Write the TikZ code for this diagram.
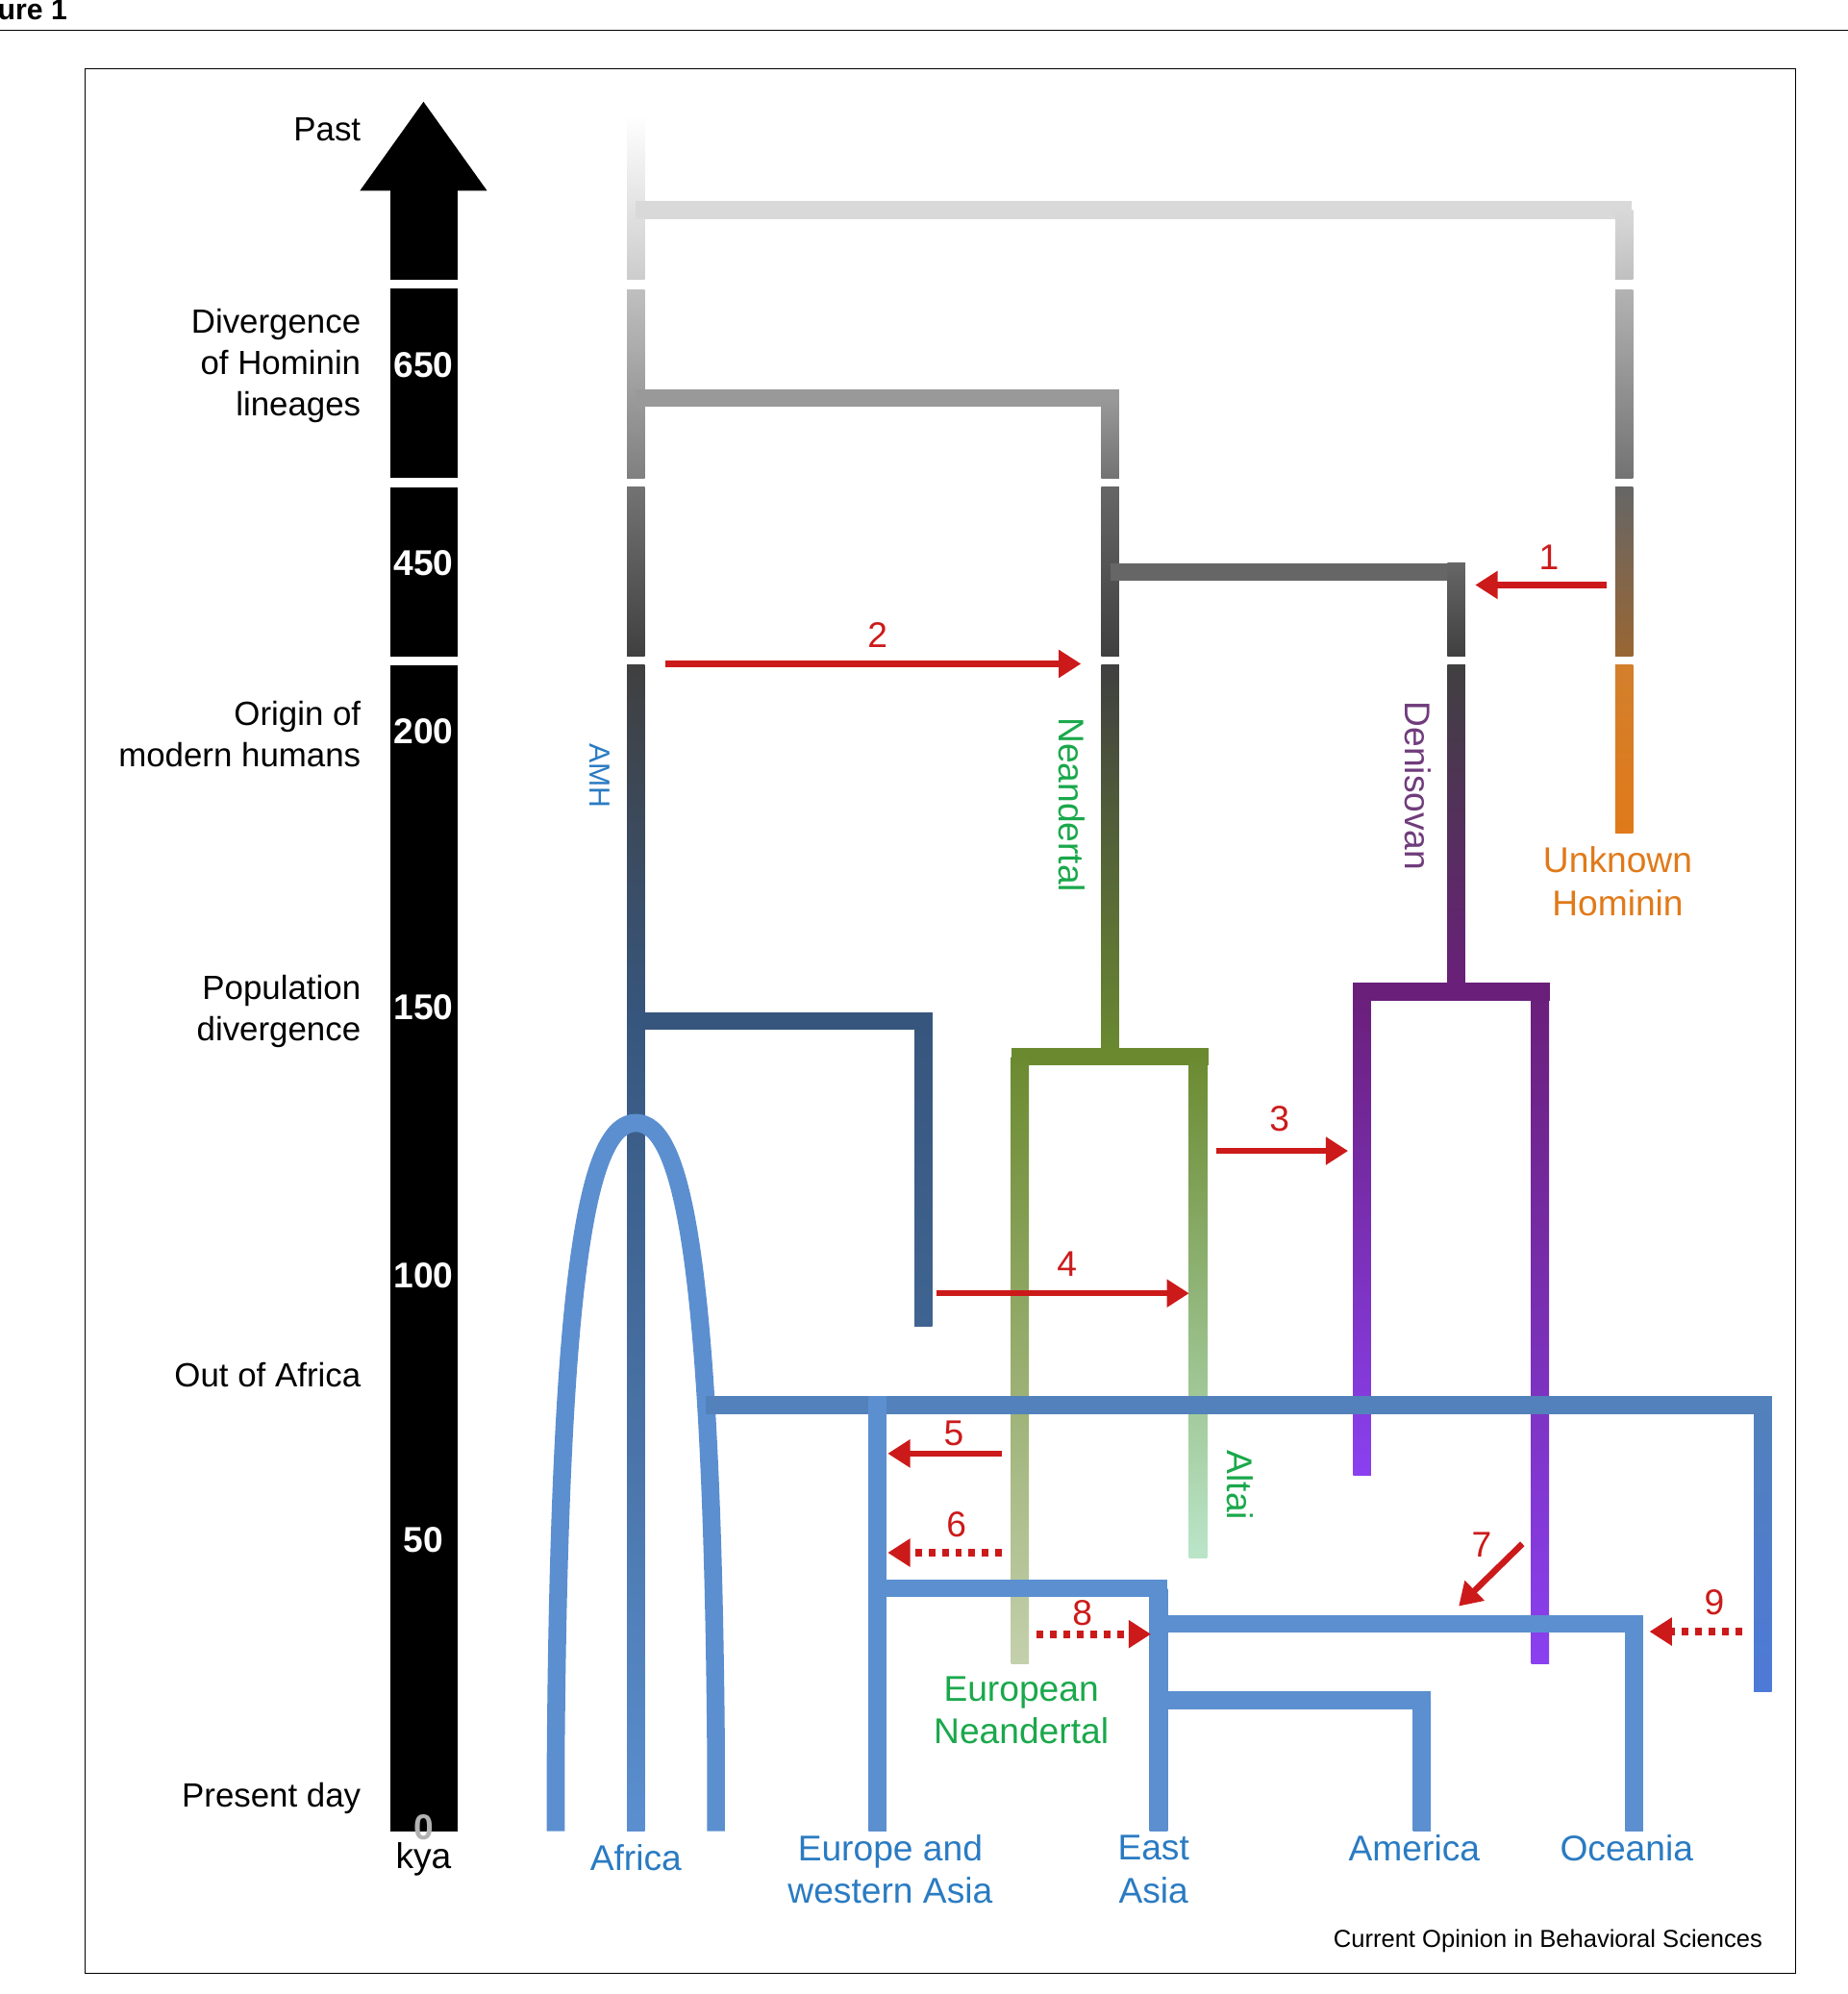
\documentclass[tikz,border=0pt]{standalone}
\usepackage{fontspec}
\setmainfont{Liberation Sans}
\usetikzlibrary{arrows.meta}
\definecolor{amhblue}{HTML}{2A7BC2}
\definecolor{treeblue}{HTML}{5B8FD0}
\definecolor{neagreen}{HTML}{1AA84B}
\definecolor{olive}{HTML}{6B8A30}
\definecolor{denipurple}{HTML}{6A1F7A}
\definecolor{brightpurple}{HTML}{8A40F0}
\definecolor{unkorange}{HTML}{E07A1A}
\definecolor{flowred}{HTML}{CC1A1A}
\newcommand{\seg}[5]{\shade[top color=#4,bottom color=#5] (#1-7,#2) rectangle (#1+7,#3);}
\newcommand{\hseg}[4]{\fill[#4] (#1,#3-7) rectangle (#2,#3+7);}
\begin{document}
\begin{tikzpicture}[x=0.02cm,y=-0.02cm,
  lbl/.style={font=\fontsize{15}{18.5}\selectfont,align=right,anchor=east,inner sep=0pt},
  kya/.style={font=\fontsize{16}{19}\selectfont\bfseries,text=white},
  tip/.style={font=\fontsize{16}{19}\selectfont,text=amhblue,align=center},
  flow/.style={draw=flowred,line width=2.8pt,-{Triangle[length=10pt,width=12pt]}},
  dflow/.style={flow,line width=3.6pt,dash pattern=on 3pt off 3pt},
  fnum/.style={font=\fontsize{16}{19}\selectfont,text=flowred}]
\useasboundingbox (0,0) rectangle (1453,1568);
\node[font=\bfseries\fontsize{13}{15}\selectfont,anchor=west] (fig) at (-8,8) {ure 1};
\draw (0,24) -- (1453,24);
\draw (67,54) rectangle (1412,1552);

% time bar
\fill (307,150) rectangle (360,1440);
\fill (283,150) -- (383,150) -- (333,80) -- cycle;
\foreach \y in {220,376,516} {
\fill[white] (300,\y) rectangle (367,\y+7);
}
\node[kya] (k650) at (333,287) {650};
\node[kya] (k450) at (333,443) {450};
\node[kya] (k200) at (333,575) {200};
\node[kya] (k150) at (333,792) {150};
\node[kya] (k100) at (333,1003) {100};
\node[kya] (k50) at (333,1211) {50};
\node[kya,text=gray!60] (k0) at (333,1437) {0};
\node[font=\fontsize{16}{19}\selectfont] (kya) at (333,1462) {kya};

\node[lbl] (past) at (284,102) {Past};
\node[lbl] (div) at (284,288) {Divergence\\of Hominin\\lineages};
\node[lbl] (orig) at (284,577) {Origin of\\modern humans};
\node[lbl] (pop) at (284,795) {Population\\divergence};
\node[lbl] (ooa) at (284,1081) {Out of Africa};
\node[lbl] (now) at (284,1414) {Present day};

% hominin lineages
\seg{500}{90}{220}{white}{black!20}
\seg{500}{228}{376}{black!25}{black!50}
\seg{500}{383}{516}{black!55}{black!75}
\seg{500}{523}{800}{black!75}{black!40!treeblue}
\seg{500}{800}{1440}{black!40!treeblue}{treeblue}
\hseg{500}{1283}{165}{black!15}
\seg{1277}{165}{220}{black!15}{black!25}
\seg{1277}{228}{376}{black!30}{black!55}
\seg{1277}{383}{516}{black!60}{brown!80!black}
\seg{1277}{523}{655}{brown!70!orange}{unkorange}
\hseg{500}{880}{313}{black!40}
\seg{873}{313}{376}{black!40}{black!55}
\seg{873}{383}{516}{black!60}{black!75}
\seg{873}{523}{830}{black!75}{olive}
\hseg{873}{1152}{450}{black!60}
\seg{1145}{443}{516}{black!60}{black!75}
\seg{1145}{523}{780}{black!75}{denipurple}
\hseg{1064}{1219}{780}{denipurple}
\seg{1071}{780}{1160}{denipurple}{brightpurple}
\seg{1211}{780}{1308}{denipurple}{brightpurple}
\hseg{795}{950}{831}{olive}
\seg{802}{831}{1308}{olive}{olive!40}
\seg{942}{831}{1225}{olive}{neagreen!30}
\hseg{500}{733}{803}{black!40!treeblue}
\seg{726}{803}{1043}{black!40!treeblue}{black!30!treeblue}

% modern human dispersal
\draw[treeblue,line width=8pt] (437,1440) -- (437,1380) .. controls (440,980) and (465,883) .. (500,883)
  .. controls (535,883) and (560,980) .. (563,1380) -- (563,1440);
\hseg{555}{1393}{1105}{treeblue!90!black}
\seg{1386}{1105}{1330}{treeblue!90!black}{blue!15!treeblue}
\seg{690}{1098}{1440}{treeblue}{treeblue}
\hseg{690}{918}{1249}{treeblue}
\seg{911}{1249}{1440}{treeblue}{treeblue}
\hseg{911}{1292}{1277}{treeblue}
\seg{1285}{1277}{1440}{treeblue}{treeblue}
\hseg{911}{1125}{1337}{treeblue}
\seg{1118}{1337}{1440}{treeblue}{treeblue}

% gene flow
\coordinate (f1a) at (1263,460); \coordinate (f1b) at (1160,460);
\coordinate (f2a) at (523,522); \coordinate (f2b) at (850,522);
\coordinate (f3a) at (956,905); \coordinate (f3b) at (1060,905);
\coordinate (f4a) at (736,1017); \coordinate (f4b) at (935,1017);
\coordinate (f5a) at (788,1143); \coordinate (f5b) at (698,1143);
\coordinate (f6a) at (788,1221); \coordinate (f6b) at (698,1221);
\coordinate (f7a) at (1197,1214); \coordinate (f7b) at (1147,1263);
\coordinate (f8a) at (815,1285); \coordinate (f8b) at (905,1285);
\coordinate (f9a) at (1370,1283); \coordinate (f9b) at (1297,1283);
\foreach \i in {1,2,3,4,5,7} {
\draw[flow] (f\i a) -- (f\i b);
}
\foreach \i in {6,8,9} {
\draw[dflow] (f\i a) -- (f\i b);
}
\node[fnum] (n1) at (1218,438) {1};
\node[fnum] (n2) at (690,499) {2};
\node[fnum] (n3) at (1006,880) {3};
\node[fnum] (n4) at (839,994) {4};
\node[fnum] (n5) at (750,1127) {5};
\node[fnum] (n6) at (752,1199) {6};
\node[fnum] (n7) at (1165,1215) {7};
\node[fnum] (n8) at (851,1268) {8};
\node[fnum] (n9) at (1348,1260) {9};

% lineage names
\node[rotate=-90,text=amhblue,font=\fontsize{13}{15}\selectfont] (amh) at (472,610) {AMH};
\node[rotate=-90,text=neagreen,font=\fontsize{16}{19}\selectfont] (nea) at (843,633) {Neandertal};
\node[rotate=-90,text=denipurple!70!gray,font=\fontsize{16}{19}\selectfont] (deni) at (1115,618) {Denisovan};
\node[rotate=-90,text=neagreen,font=\fontsize{16}{19}\selectfont] (altai) at (975,1168) {Altai};
\node[tip,text=unkorange] (unk) at (1272,693) {Unknown\\Hominin};
\node[tip,text=neagreen] (eurnea) at (803,1345) {European\\Neandertal};
\node[tip] (africa) at (500,1461) {Africa};
\node[tip] (europe) at (700,1470) {Europe and\\western Asia};
\node[tip] (eastasia) at (907,1470) {East\\Asia};
\node[tip] (america) at (1112,1453) {America};
\node[tip] (oceania) at (1279,1453) {Oceania};
\node[font=\fontsize{11}{13}\selectfont,anchor=east] (credit) at (1392,1526) {Current Opinion in Behavioral Sciences};
\end{tikzpicture}
\end{document}
